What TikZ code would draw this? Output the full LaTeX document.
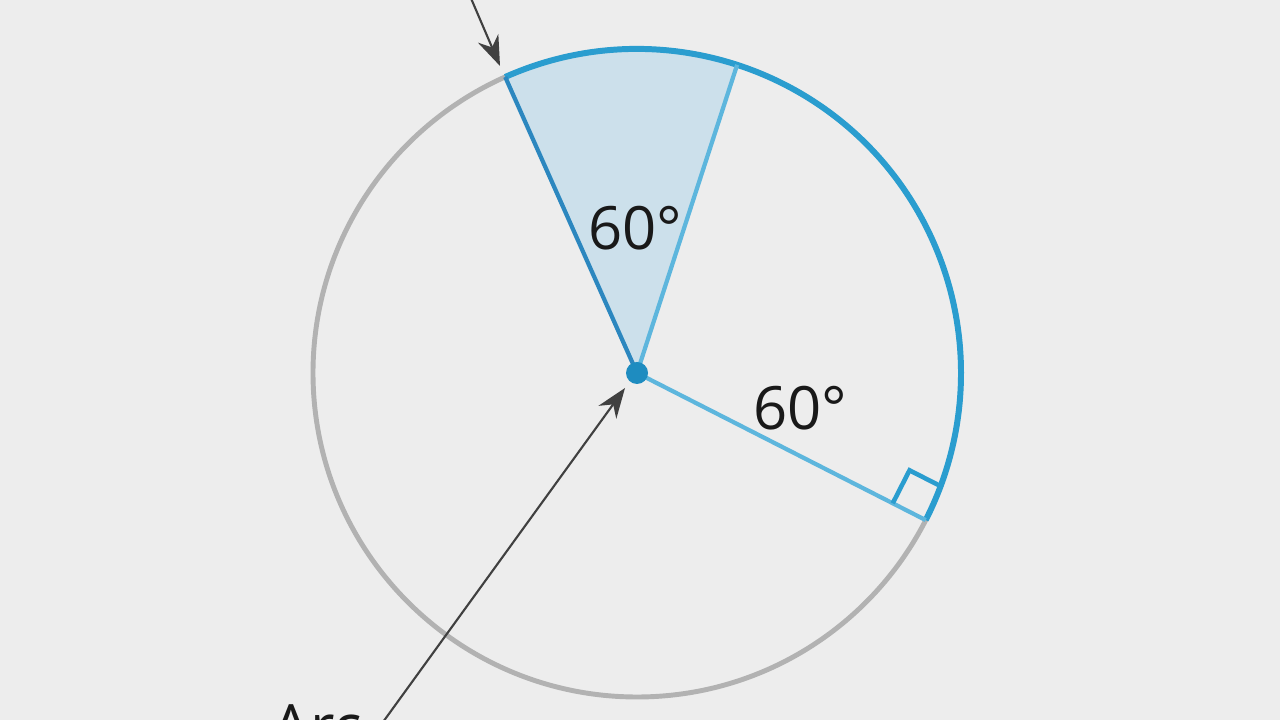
\documentclass[tikz,border=0pt]{standalone}
\usepackage{fontspec}
\setmainfont{Open Sans}
\usepackage{tikz}
\usetikzlibrary{arrows.meta,calc}
\definecolor{bg}{HTML}{EDEDED}
\definecolor{arcblue}{HTML}{2A9DCF}
\definecolor{lightblue}{HTML}{5DB6DD}
\definecolor{darkblue}{HTML}{2C87BF}
\definecolor{sectorblue}{HTML}{CCE0EB}
\definecolor{dotblue}{HTML}{1E8CC0}
\definecolor{rimgray}{HTML}{B2B2B2}

\begin{document}
\begin{tikzpicture}[
    x=1cm,y=1cm,
    rim/.style={line width=1.4pt, rimgray},
    arcline/.style={line width=1.7pt, arcblue},
    radial/.style={line width=1.2pt, lightblue},
    pointer/.style={line width=0.6pt, black!75, -{Stealth[length=3mm,width=2.2mm]}},
    lbl/.style={font=\fontsize{17}{20}\selectfont, text=black!90}
    ]
    \useasboundingbox (0,0) rectangle (12.8,7.2);
    \clip (0,0) rectangle (12.8,7.2);
    \fill[bg] (0,0) rectangle (12.8,7.2);
    \begin{scope}[shift={(6.37,3.47)}]
        \coordinate (O) at (0,0);
        \coordinate (A) at (114:3.24);
        \coordinate (B) at (72:3.24);
        \coordinate (E) at (-27:3.24);
        % shaded sector
        \fill[sectorblue] (O) -- (B) arc[start angle=72, end angle=114, radius=3.24] -- cycle;
        \draw[rim] (O) circle (3.24);
        \draw[arcline] (A) arc[start angle=114, end angle=-27, radius=3.24];
        \draw[radial, darkblue] (O) -- (A);
        \draw[radial] (O) -- (B);
        \draw[radial] (O) -- (E);
        % right angle mark
        \draw[arcline, line width=1.3pt] ($(E)+(153:0.37)$) -- ++(63:0.37) -- ++(-27:0.37);
        \fill[dotblue] (O) circle (0.11);
    \end{scope}
    \node[lbl] (sector) at (6.35,4.92) {60°};
    \node[lbl] (radius) at (8.00,3.12) {60°};
    \node[lbl, inner sep=0pt, anchor=north west] (arc) at (2.72,0.16) {Arc};
    \coordinate (top) at (4.61,7.45);
    \coordinate (tip) at (5.00,6.54);
    \coordinate (foot) at (3.70,-0.2);
    \coordinate (hub) at (6.25,3.32);
    \draw[pointer] (top) -- (tip);
    \draw[pointer] (foot) -- (hub);
\end{tikzpicture}
\end{document}
